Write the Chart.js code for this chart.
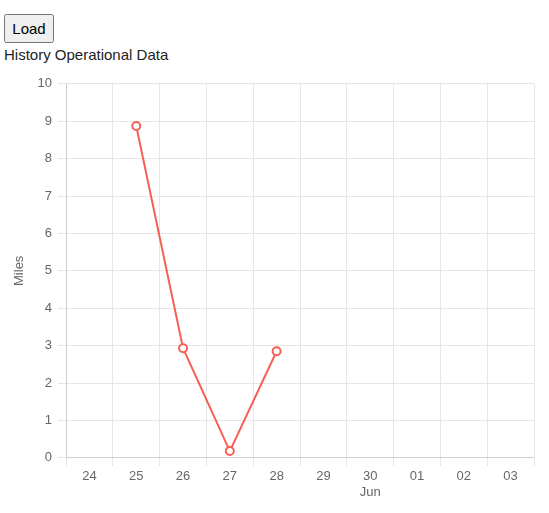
<!DOCTYPE html>
<html>
<head>
<script src="https://cdn.jsdelivr.net/npm/chart.js@4"></script>
<style>
    body { margin: 0; font-family: "Liberation Sans", Arial, sans-serif; }
    #loadButton { position: absolute; left: 4px; top: 14px; width: 50px; height: 29px; font-size: 15px; font-family: "Liberation Sans", Arial, sans-serif; }
    #titleOfGraph { position: absolute; left: 4px; top: 46px; font-size: 15px; color: #222; }
    #chartBox { position: absolute; left: 4px; top: 70px; width: 536px; height: 433px; }
</style>
</head>
<body>
<button id="loadButton">Load</button>
<div id="titleOfGraph">History Operational Data</div>
<div id="chartBox"><canvas id="myChart"></canvas></div>
<script>
const dayLabels = ['24', '25', '26', '27', '28', '29', ['30', 'Jun'], '01', '02', '03'];
const milesValues = [null, 8.87, 2.93, 0.18, 2.85, null, null, null, null, null];
const yTicks = [0, 10];

const ctx = document.getElementById('myChart').getContext('2d');
Chart.defaults.font.family = '"Liberation Sans", Arial, sans-serif';
Chart.defaults.font.size = 13;
Chart.defaults.color = '#666';

const myChart = new Chart(ctx, {
    type: 'line',
    data: {
        labels: dayLabels,
        datasets: [{
            label: 'Miles',
            data: milesValues,
            borderColor: 'rgb(246, 96, 84)',
            backgroundColor: '#fff',
            borderWidth: 2,
            pointRadius: 4,
            pointBorderWidth: 2,
            pointBackgroundColor: '#fff',
            tension: 0,
            spanGaps: false
        }]
    },
    options: {
        responsive: true,
        maintainAspectRatio: false,
        animation: false,
        layout: { padding: { left: 4 } },
        scales: {
            x: {
                offset: true,
                grid: { offset: true, color: '#e6e6e6' },
                ticks: { color: '#666' }
            },
            y: {
                min: yTicks[0],
                max: yTicks[1],
                ticks: { stepSize: 1, color: '#666', padding: 6 },
                grid: { color: '#e6e6e6' },
                title: { display: true, text: 'Miles', color: '#666' }
            }
        },
        plugins: {
            legend: { display: false }
        }
    }
});
</script>
</body>
</html>
